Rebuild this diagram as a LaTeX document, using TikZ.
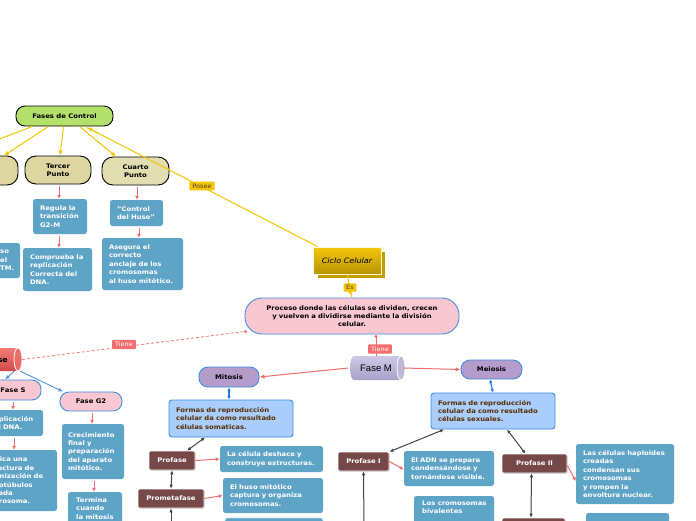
\documentclass[tikz,border=0pt]{standalone}
\usepackage{fontspec}
\setmainfont{DejaVu Sans}[FakeStretch=1.09]
\newfontfamily\libsans{Liberation Sans}
\usetikzlibrary{shapes.geometric,arrows.meta,shadows,calc}
\definecolor{yel}{HTML}{F5C400}
\definecolor{greenc}{HTML}{B3E06B}
\definecolor{tanc}{HTML}{DDD6A0}
\definecolor{tanl}{HTML}{E3DEB2}
\definecolor{boxblue}{HTML}{5EA4C7}
\definecolor{redc}{HTML}{F26D6D}
\definecolor{brn}{HTML}{774848}
\definecolor{pinkc}{HTML}{F9C7D1}
\definecolor{bordb}{HTML}{3D8FE0}
\definecolor{lblue}{HTML}{A9CDFD}
\definecolor{lav}{HTML}{B49CCB}
\definecolor{lavtop}{HTML}{CDC9E4}
\definecolor{lavbot}{HTML}{A7A1C9}
\definecolor{darkc}{HTML}{444444}
\definecolor{txtbrn}{HTML}{5A2D00}
\definecolor{blueln}{HTML}{1F7AE0}
\definecolor{redtop}{HTML}{F27C78}
\definecolor{redbot}{HTML}{D24A48}
\tikzset{
  base/.style={font=\fontsize{6.3}{8.4}\selectfont\bfseries, inner sep=0pt, align=left},
  bluebox/.style={base, fill=boxblue, rounded corners=2.5pt, text=white},
  tanbox/.style={base, align=center, fill=tanc, draw=black, line width=0.9pt, rounded corners=11pt, text=black},
  brnbox/.style={base, align=center, fill=brn, text=white, rounded corners=1.5pt, draw=white, line width=0.6pt,
     drop shadow={opacity=0.35, shadow xshift=0.8pt, shadow yshift=-0.8pt}},
  lbbox/.style={base, fill=lblue, draw=bordb, line width=0.9pt, rounded corners=3pt, text=txtbrn},
  lavpill/.style={base, align=center, fill=lav, draw=bordb, line width=0.9pt, rounded corners=8pt, text=black},
  pinkpill/.style={base, align=center, fill=pinkc, draw=bordb, line width=0.9pt, rounded corners=9pt, text=black},
  lbl/.style={font=\fontsize{6}{7}\selectfont, inner xsep=3pt, inner ysep=2.2pt, rounded corners=0.8pt},
  tiene/.style={lbl, fill=redc, text=white},
  posee/.style={lbl, fill=yel, text=black!75},
  yarr/.style={draw=yel, line width=1pt, -{Latex[length=5pt,width=4.5pt]}},
  rarr/.style={draw=redc, line width=1pt, -{Latex[length=4pt,width=4pt]}},
  darr/.style={draw=darkc, line width=1pt, {Latex[length=4pt,width=3.5pt]}-{Latex[length=4pt,width=3.5pt]}},
  barr/.style={draw=blueln, line width=1.2pt, {Latex[length=3.5pt,width=3.5pt]}-{Latex[length=3.5pt,width=3.5pt]}},
  blarr/.style={draw=blueln!80, line width=0.9pt, -{Latex[length=4.5pt,width=4pt]}},
}
\begin{document}
\begin{tikzpicture}[x=1pt,y=-1pt]
\useasboundingbox (0,0) rectangle (696,520);
\clip (0,0) rectangle (696,520);
\fill[white] (0,0) rectangle (696,520);

% ---- top: fases de control
\node[tanbox, fill=greenc, rounded corners=9pt, minimum width=97, minimum height=20] (fc) at (64.5,116) {Fases de Control};
\node[tanbox, minimum width=60, minimum height=29] (tan0) at (-12,170.5) {};
\node[tanbox, minimum width=66, minimum height=28] (tp) at (58,170) {Tercer\\Punto};
\node[tanbox, fill=tanl, minimum width=67, minimum height=28] (cp) at (135.5,171) {Cuarto\\Punto};
\coordinate (offL) at (-6,141);

\node[bluebox, minimum width=54, minimum height=35, text width=40] (reg) at (60,216.5) {Regula la\\transición\\G2-M};
\node[bluebox, minimum width=69, minimum height=43, text width=55] (comp) at (57.5,269.5) {Comprueba la\\replicación\\Correcta del\\DNA.};
\node[bluebox, minimum width=30, minimum height=35] (lb0) at (5,260.5) {};
\node[base, text=white, anchor=west] (lb0t) at (0,260.5) {so\\el\\TM.};
\node[bluebox, minimum width=53, minimum height=26, text width=39] (ctrl) at (136.5,213) {"Control\\del Huso"};
\node[bluebox, minimum width=81, minimum height=52, text width=67] (aseg) at (142.5,264) {Asegura el\\correcto\\anclaje de los\\cromosomas\\al huso mitótico.};

\draw[draw=yel, line width=1pt] ([xshift=-32pt]fc.south) -- (offL);
\draw[yarr] ([xshift=-16pt]fc.south) -- ([xshift=16pt]tan0.north);
\draw[yarr] ([xshift=-1pt]fc.south) -- ([xshift=2pt]tp.north);
\draw[yarr] ([xshift=15pt]fc.south) -- ([xshift=-19.5pt]cp.north);
\draw[rarr] ([xshift=1pt,yshift=-1.5pt]tp.south) -- ([xshift=-1pt]reg.north);
\draw[rarr] ([xshift=-1pt,yshift=-1.5pt]reg.south) -- ([xshift=1.5pt]comp.north);
\draw[rarr] ([xshift=1.5pt,yshift=-1.5pt]cp.south) -- ([xshift=0.5pt]ctrl.north);
\draw[rarr] ([xshift=2.5pt,yshift=-1.5pt]ctrl.south) -- ([xshift=-3.5pt]aseg.north);

% ---- ciclo celular
\fill[yel!80!black, draw=white, line width=1pt] (317,251) rectangle (385,278);
\node[draw=white!85!yel, line width=1pt, top color=yel!95!white, bottom color=yel!75!black, minimum width=68, minimum height=27, inner sep=0pt,
  font=\fontsize{7.4}{8}\selectfont\itshape] (cc) at (347,260.5) {Ciclo Celular};
\draw[yel, line width=1pt] ([xshift=5pt]cc.north west) -- ([xshift=22.5pt,yshift=-1pt]fc.south) coordinate (fcp);
\draw[yarr] ($ (cc.north west)!0.95!(fcp) $) -- (fcp);
\node[posee] (pos) at (202,186) {Posee};

\node[pinkpill, minimum width=214, minimum height=36, rounded corners=17pt, text width=196] (pill) at (352,316)
  {Proceso donde las células se dividen, crecen\\y vuelven a dividirse mediante la división\\celular.};
\draw[yel, line width=1pt] (cc.south) -- (pill.north);
\node[posee, inner xsep=2.5pt, inner ysep=1.8pt] (es) at (350,287.5) {Es};
\fill[yel] ([xshift=-2pt]es.south) -- ([xshift=2pt]es.south) -- ([yshift=-2.5pt]es.south) -- cycle;

% ---- fase M (cylinder)
\shade[top color=lavtop, bottom color=lavbot] (354,356) -- (401,356) arc[start angle=90,end angle=-90,x radius=4pt,y radius=12pt]
   -- (354,380) arc[start angle=270,end angle=90,x radius=4pt,y radius=12pt] -- cycle;
\draw[white, line width=0.8pt, fill=lavtop!60!lavbot] (401,368) ellipse [x radius=4pt, y radius=12pt];
\node[minimum width=55, minimum height=24, inner sep=0pt, font=\libsans\fontsize{9.5}{10}\selectfont] (fm) at (376,368) {Fase M};
\draw[redc, line width=0.8pt] ([xshift=24pt,yshift=-2pt]pill.south) coordinate (pd) -- (fm.north);
\fill[redc] (pd) circle (1.6pt);
\node[tiene] (t2) at (380,349) {Tiene};

% ---- interfase (cylinder, clipped)
\shade[top color=redtop, bottom color=redbot] (-50,348) -- (18,348) arc[start angle=90,end angle=-90,x radius=4pt,y radius=11.5pt]
   -- (-50,371) -- cycle;
\draw[white, line width=0.8pt, fill=redtop!70!redbot] (18,359.5) ellipse [x radius=4pt, y radius=11.5pt];
\node[minimum width=64, minimum height=23, inner sep=0pt, font=\fontsize{7.2}{8}\selectfont\bfseries] (inter) at (-10,359.5) {};
\node[font=\fontsize{7.2}{8}\selectfont\bfseries, inner sep=0pt, anchor=east] (intert) at (8,360) {Interfase};
\draw[redc!90, line width=0.8pt, dash pattern=on 3pt off 2pt] (inter.east) -- ([xshift=1pt,yshift=3pt]pill.south west) coordinate (pw);
\fill[redc] (pw) circle (1.6pt);
\node[tiene] (t1) at (124,344.5) {Tiene};

% ---- mitosis side
\node[lavpill, minimum width=60, minimum height=20, rounded corners=9pt] (mit) at (229,377) {Mitosis};
\draw[redc, line width=1pt, -{Latex[length=5pt,width=4.5pt]}] (fm.west) -- (mit.east);
\node[lbbox, minimum width=124, minimum height=37, text width=110] (fmit) at (231,418.5) {Formas de reproducción\\celular da como resultado\\células somaticas.};
\draw[barr] (mit.south) -- ([xshift=-2pt]fmit.north);
\node[brnbox, minimum width=46, minimum height=19] (pro) at (172,460.5) {Profase};
\draw[darr] ([xshift=-26pt]fmit.south) -- ([xshift=15pt]pro.north);
\node[bluebox, minimum width=103, minimum height=26, text width=89] (lacel) at (271.5,459) {La célula deshace y\\construye estructuras.};
\draw[rarr] (pro.east) -- (lacel.west);
\node[brnbox, minimum width=66, minimum height=19] (prom) at (171,498.5) {Prometafase};
\draw[darr] (pro.south) -- (prom.north);
\node[bluebox, minimum width=100, minimum height=35, text width=86] (huso) at (273,495.5) {El huso mitótico\\captura y organiza\\cromosomas.};
\draw[rarr] (prom.east) -- (huso.west);
\node[bluebox, draw=boxblue!40!white, line width=0.8pt, minimum width=98, minimum height=24] (hb2) at (274,530) {};
\coordinate (promdown) at (171,528);
\draw[darkc, line width=1pt, {Latex[length=4pt,width=3.5pt]}-] (prom.south) -- (promdown);

% ---- meiosis side
\node[lavpill, minimum width=61, minimum height=19, rounded corners=9pt] (mei) at (491.5,369.5) {Meiosis};
\draw[redc, line width=1pt, -{Latex[length=5pt,width=4.5pt]}] (fm.east) -- (mei.west);
\node[lbbox, minimum width=124, minimum height=36, text width=110] (fmei) at (493,411) {Formas de reproducción\\celular da como resultado\\células sexuales.};
\draw[barr] ([xshift=-1.5pt]mei.south) -- (fmei.north);
\node[brnbox, minimum width=51, minimum height=19] (p1) at (363.5,461.5) {Profase I};
\node[brnbox, minimum width=65, minimum height=19] (p2) at (534.5,463.5) {Profase II};
\draw[darr] ([xshift=-49pt]fmei.south) -- ([xshift=26pt]p1.north);
\draw[darr] ([xshift=14pt]fmei.south) -- ([xshift=-9pt]p2.north);
\node[bluebox, minimum width=90, minimum height=35, text width=76] (adn) at (449,468.5) {El ADN se prepara\\condensándose y\\tornándose visible.};
\draw[rarr] (p1.east) -- ([yshift=-1pt]adn.west);
\node[bluebox, minimum width=80, minimum height=48] (biv) at (454,520) {};
\node[base, text=white, anchor=north west] (bivt) at (422,500.5) {Los cromosomas\\bivalentes};
\coordinate (p1down) at (364,528);
\draw[darkc, line width=1pt, {Latex[length=4pt,width=3.5pt]}-] (p1.south) -- (p1down);
\node[bluebox, minimum width=98, minimum height=60, text width=84] (hap) at (625,474) {Las células haploides\\creadas\\condensan sus\\cromosomas\\y rompen la\\envoltura nuclear.};
\draw[rarr] ([yshift=-2pt]p2.east) -- ([yshift=-7pt]hap.west);
\node[brnbox, minimum width=63, minimum height=20] (p3) at (533.5,528) {};
\draw[darr] ([xshift=-3pt]p2.south) -- ([xshift=-2.5pt]p3.north);
\node[bluebox, minimum width=83, minimum height=30] (hb3) at (627.5,528) {};

% ---- interfase children
\node[pinkpill, minimum width=56, minimum height=20] (fs) at (13,390) {Fase S};
\node[pinkpill, minimum width=62, minimum height=19] (fg2) at (91,401.5) {Fase G2};
\draw[blarr] ([xshift=-8pt]inter.south east) -- ([xshift=-8pt]fs.north);
\draw[blarr] ([xshift=-2pt]inter.south east) -- ([xshift=-28pt]fg2.north);
\node[bluebox, minimum width=58, minimum height=26, text width=50] (rep) at (14,423) {Replicación\\del DNA.};
\node[bluebox, minimum width=82, minimum height=61, text width=68] (dup) at (16,480.5) {Duplica una\\estructura de\\organización de\\microtúbulos\\llamada\\centrosoma.};
\draw[rarr] ([yshift=-1.5pt]fs.south) -- ([xshift=-1pt]rep.north);
\draw[rarr] ([yshift=-1.5pt]rep.south) -- ([xshift=-2pt]dup.north);
\node[bluebox, minimum width=62, minimum height=55, text width=50] (crec) at (93,451.5) {Crecimiento\\final y\\preparación\\del aparato\\mitótico.};
\draw[rarr] ([xshift=1pt,yshift=-1.5pt]fg2.south) -- ([xshift=-1pt]crec.north);
\node[bluebox, minimum width=54, minimum height=46] (term) at (95,515) {};
\node[base, text=white, anchor=north west] (termt) at (76,497.5) {Termina\\cuando\\la mitosis};
\draw[rarr] ([xshift=1pt,yshift=-1.5pt]crec.south) -- ([xshift=-1pt]term.north);
\end{tikzpicture}
\end{document}
